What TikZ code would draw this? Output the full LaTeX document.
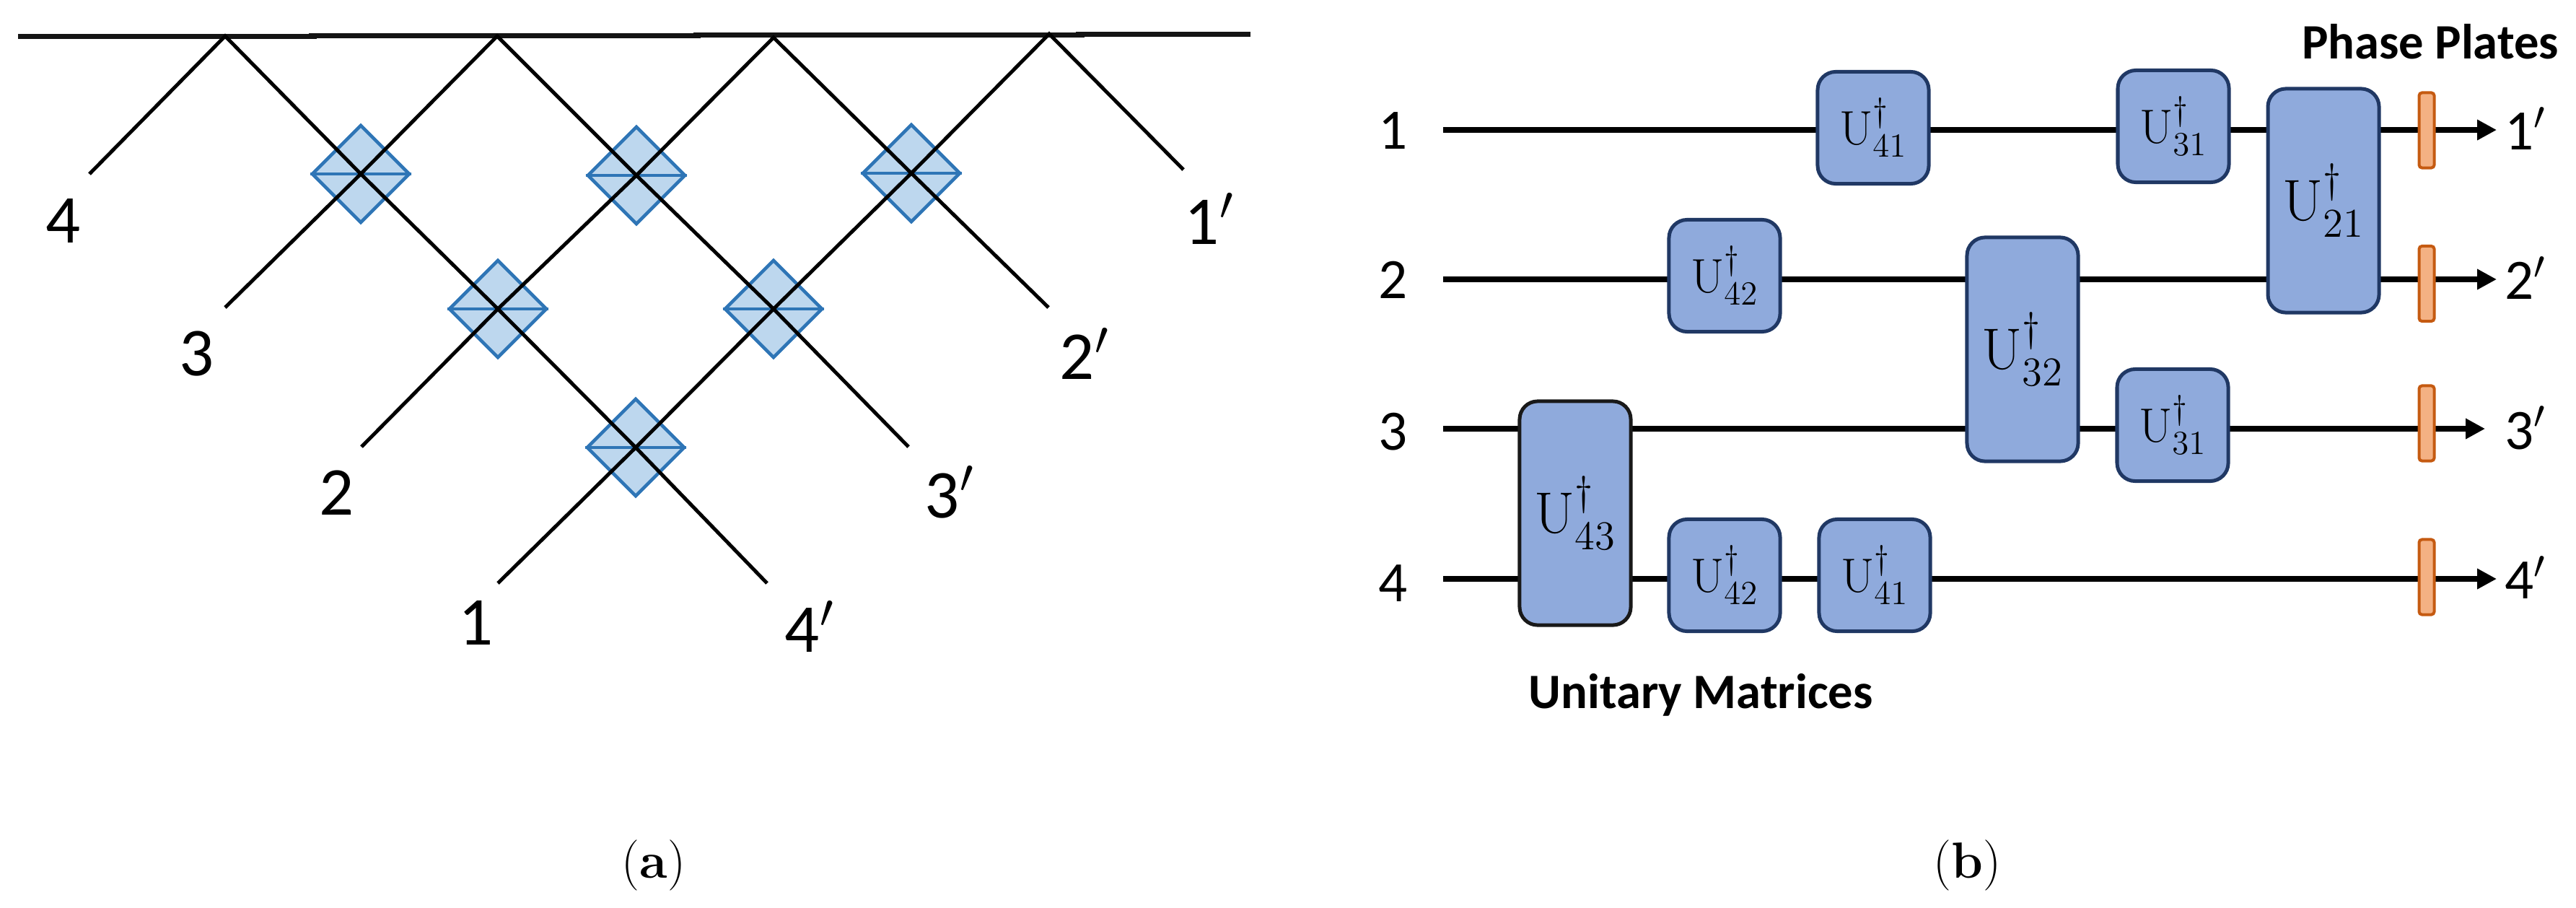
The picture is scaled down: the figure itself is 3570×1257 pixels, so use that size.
\RequirePackage{fix-cm}
\documentclass[tikz,border=0pt]{standalone}
\usepackage{amsmath}
\usepackage{fontspec}
\usepackage{tikz}
\usetikzlibrary{shapes.geometric,arrows.meta}
\newfontfamily\labelfont{Carlito}
\definecolor{gatefill}{HTML}{8FAADC}
\definecolor{gateline}{HTML}{203864}
\definecolor{platefill}{HTML}{F4B183}
\definecolor{plateline}{HTML}{C55A11}
\definecolor{splitfill}{HTML}{BDD7EE}
\definecolor{splitline}{HTML}{2E75B6}
\tikzset{
	mirror/.style={line width=0.07cm, color=black!92},
	beam/.style={line width=0.05cm, line join=miter},
	wire/.style={line width=0.08cm},
	splitter/.style={diamond, aspect=1, inner sep=0pt,
		minimum width=1.36cm, minimum height=1.36cm,
		fill=splitfill, draw=splitline, line width=0.045cm},
	gate/.style={rectangle, rounded corners=0.25cm, inner sep=0pt,
		minimum width=1.54cm, fill=gatefill, draw=gateline, line width=0.05cm,
		font=\fontsize{19}{22}\selectfont},
	smallgate/.style={gate, minimum height=1.55cm},
	biggate/.style={gate, minimum height=3.1cm,
		font=\fontsize{23}{26}\selectfont},
	plate/.style={rectangle, rounded corners=0.04cm, inner sep=0pt,
		minimum width=0.21cm, minimum height=1.04cm,
		fill=platefill, draw=plateline, line width=0.04cm},
	biglabel/.style={inner sep=0pt, font=\labelfont\fontsize{27}{30}\selectfont},
	smalllabel/.style={inner sep=0pt, font=\labelfont\fontsize{22.5}{26}\selectfont},
	boldlabel/.style={inner sep=0pt, font=\labelfont\bfseries\fontsize{19.5}{22}\selectfont},
	caption/.style={inner sep=0pt, font=\fontsize{20}{24}\selectfont}
}
\begin{document}
\begin{tikzpicture}[x=0.01cm, y=-0.01cm]
	\useasboundingbox (0,0) rectangle (3570,1257);
	% (a) mirror
	\foreach \xa/\xb/\y in {25/439/50, 428/971/49.5, 961/1503/48, 1491/1733/47}{
		\coordinate (ml) at(\xa,\y);
		\coordinate (mr) at(\xb,\y);
		\draw[mirror] (ml) -- (mr);
	}
	% (a) beam splitters
	\foreach \n/\x/\y in {b1/500/241, b2/882/243, b3/1263/240, b4/690/428, b5/1072/428, b6/881/620}{
		\node[splitter] (\n) at(\x,\y){};
		\draw[line width=0.045cm, color=splitline] (\n.west) -- (\n.east);
	}
	\coordinate (a1) at(312,50);
	\coordinate (a2) at(689,50);
	\coordinate (a3) at(1072,52);
	\coordinate (a4) at(1454,47);
	\coordinate (i4) at(124,241);
	\coordinate (i3) at(312,426);
	\coordinate (i2) at(501,619);
	\coordinate (i1) at(690,808);
	\coordinate (o1) at(1640,235);
	\coordinate (o2) at(1453,426);
	\coordinate (o3) at(1259,619);
	\coordinate (o4) at(1063,808);
	\draw[beam] (i4) -- (a1) -- (b1.center) -- (b4.center) -- (b6.center) -- (o4);
	\draw[beam] (i3) -- (b1.center) -- (a2) -- (b2.center) -- (b5.center) -- (o3);
	\draw[beam] (i2) -- (b4.center) -- (b2.center) -- (a3) -- (b3.center) -- (o2);
	\draw[beam] (i1) -- (b6.center) -- (b5.center) -- (b3.center) -- (a4) -- (o1);
	\node[biglabel] (l4) at(88,306){4};
	\node[biglabel] (l3) at(273,490){3};
	\node[biglabel] (l2) at(467,683){2};
	\node[biglabel] (l1) at(660,863){1};
	\node[biglabel] (r4) at(1122,868){4$'$};
	\node[biglabel] (r3) at(1316,682){3$'$};
	\node[biglabel] (r2) at(1503,490){2$'$};
	\node[biglabel] (r1) at(1676,303){1$'$};
	% (b) wires
	\foreach \n/\y/\e in {1/180/3460, 2/387/3460, 3/594/3444, 4/802/3460}{
		\coordinate (s\n) at(2000,\y);
		\coordinate (e\n) at(\e,\y);
		\draw[wire, -{Triangle[length=0.27cm, width=0.27cm]}] (s\n) -- (e\n);
	}
	\node[smalllabel] (in1) at(1931,181){1};
	\node[smalllabel] (in2) at(1931,388){2};
	\node[smalllabel] (in3) at(1931,598){3};
	\node[smalllabel] (in4) at(1931,808){4};
	% (b) unitary matrices
	\node[smallgate] (u41a) at(2596,177){$\mathrm{U}_{41}^{\dagger}$};
	\node[smallgate] (u31a) at(3012,175){$\mathrm{U}_{31}^{\dagger}$};
	\node[biggate] (u21) at(3220,278){$\mathrm{U}_{21}^{\dagger}$};
	\node[smallgate] (u42a) at(2390,382){$\mathrm{U}_{42}^{\dagger}$};
	\node[biggate] (u32) at(2803,484){$\mathrm{U}_{32}^{\dagger}$};
	\node[smallgate] (u31b) at(3011,589){$\mathrm{U}_{31}^{\dagger}$};
	\node[biggate, draw=black!90] (u43) at(2183,711){$\mathrm{U}_{43}^{\dagger}$};
	\node[smallgate] (u42b) at(2390,797){$\mathrm{U}_{42}^{\dagger}$};
	\node[smallgate] (u41b) at(2598,797){$\mathrm{U}_{41}^{\dagger}$};
	% (b) phase plates
	\foreach \n/\y in {1/180.5, 2/393, 3/586.5, 4/799.5}{
		\node[plate] (p\n) at(3363,\y){};
	}
	\node[smalllabel] (out1) at(3500,178){1$'$};
	\node[smalllabel] (out2) at(3500,385){2$'$};
	\node[smalllabel] (out3) at(3500,593){3$'$};
	\node[smalllabel] (out4) at(3500,800){4$'$};
	\node[boldlabel] (phase) at(3368,58){Phase Plates};
	\node[boldlabel] (unitary) at(2357,963){Unitary Matrices};
	\node[caption] (capa) at(906,1199){(\textbf{a})};
	\node[caption] (capb) at(2726,1199){(\textbf{b})};
\end{tikzpicture}
\end{document}
